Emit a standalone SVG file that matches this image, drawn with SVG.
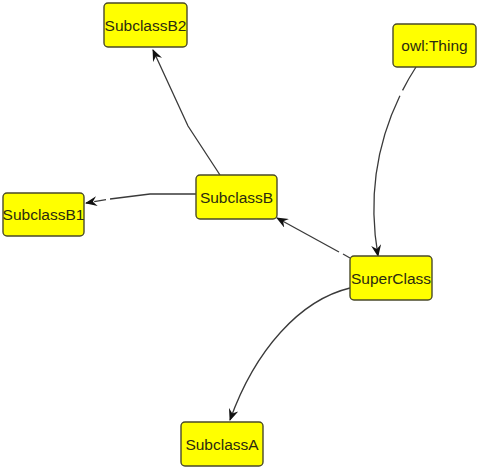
<svg xmlns="http://www.w3.org/2000/svg" width="478" height="469" viewBox="0 0 478 469">
<style>
.node rect{fill:#ffff00;stroke:#4a4a2a;stroke-width:1.4}
.node text{font-family:"Liberation Sans",Arial,sans-serif;font-size:15.5px;fill:#2b2b10;text-anchor:middle}
.edge{fill:none;stroke:#3a3a3a;stroke-width:1.3}
</style>
<defs>
<marker id="arr" viewBox="0 0 12 10" refX="11" refY="5" markerWidth="12" markerHeight="10" markerUnits="userSpaceOnUse" orient="auto">
<path d="M0,0 L12,5 L0,10 L4,5 z" fill="#111"/>
</marker>
</defs>
<rect width="478" height="469" fill="#ffffff"/>
<g id="connectors">
<path class="edge" d="M220,175 L188,126 L153,50" marker-end="url(#arr)"/>
<path class="edge" d="M196,194 L150,194 L110,199"/>
<path class="edge" d="M106,199.6 L86,203" stroke-dasharray="12 3 20" marker-end="url(#arr)"/>
<path class="edge" d="M350,258 L343,254"/>
<path class="edge" d="M339,252 L277,218" marker-end="url(#arr)"/>
<path class="edge" d="M416,67 C385,115 365,180 378,256" stroke-dasharray="27 6 1000" marker-end="url(#arr)"/>
<path class="edge" d="M350,288 C300,300 255,350 230,420" marker-end="url(#arr)"/>
</g>
<g id="node-SubclassB2" class="node"><rect x="104" y="3" width="83" height="44" rx="4"/><text x="145.5" y="30.5">SubclassB2</text></g>
<g id="node-owlThing" class="node"><rect x="393" y="24" width="83" height="43" rx="4"/><text x="434.5" y="51">owl:Thing</text></g>
<g id="node-SubclassB" class="node"><rect x="196" y="175" width="81" height="44" rx="4"/><text x="236.5" y="202.5">SubclassB</text></g>
<g id="node-SubclassB1" class="node"><rect x="3" y="193" width="81" height="43" rx="4"/><text x="43.5" y="220">SubclassB1</text></g>
<g id="node-SuperClass" class="node"><rect x="350" y="256" width="82" height="44" rx="4"/><text x="391" y="283.5">SuperClass</text></g>
<g id="node-SubclassA" class="node"><rect x="181" y="422" width="82" height="44" rx="4"/><text x="222" y="449.5">SubclassA</text></g>
</svg>
